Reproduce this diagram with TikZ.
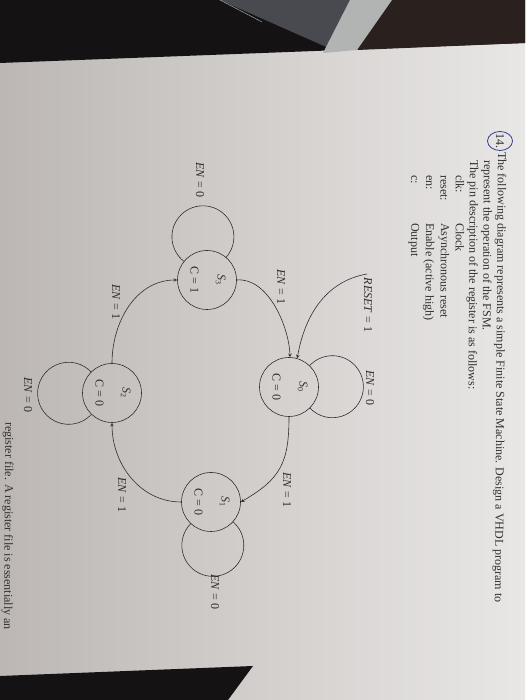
\documentclass[tikz,border=0pt]{standalone}
\usepackage{fontspec}
\usepackage{graphicx}
\setmainfont{Liberation Serif}
\usetikzlibrary{shapes.geometric}

\definecolor{ink}{RGB}{48,46,46}
\definecolor{pen}{RGB}{50,60,150}
\definecolor{paperL}{RGB}{188,183,180}
\definecolor{paperR}{RGB}{233,231,230}
\definecolor{desk}{RGB}{20,18,19}
\definecolor{sheet}{RGB}{72,74,80}
\definecolor{tape}{RGB}{178,180,180}
\definecolor{wood}{RGB}{42,32,29}

\newcommand{\stlabel}[2]{\rotatebox{-90}{\begin{tabular}{@{}c@{}}\textit{S}\textsubscript{#1}\\[13pt]C = #2\end{tabular}}}

\tikzset{
  state/.style={circle, draw=ink, line width=0.6pt, minimum size=59pt, inner sep=0pt},
  lbl/.style={rotate=-90, inner sep=0pt},
  txt/.style={rotate=-90.4, anchor=west, inner sep=0pt},
  flow/.style={-stealth, line width=0.6pt},
}

\begin{document}
\begin{tikzpicture}[x=1pt, y=1pt, color=ink, font=\fontsize{12}{14}\selectfont]
\useasboundingbox (0,0) rectangle (525,700);

% photo: page, desk and tape
\shade[left color=paperL, right color=paperR] (0,0) rectangle (525,700);
\fill[desk] (0,700) -- (525,700) -- (525,657) -- (0,637) -- cycle;
\fill[sheet] (220,700) -- (350,700) -- (333,650) -- cycle;
\draw[gray!70, line width=0.5pt] (220,700) -- (262,678);
\fill[wood] (392,700) -- (525,700) -- (525,657) -- (357,650) -- cycle;
\fill[tape] (323,647) -- (357,650) -- (392,700) -- (350,700) -- cycle;
\foreach \p in {(340,660),(352,672),(364,684),(374,694)}
  \draw[gray!60] \p circle (1.8);
\fill[desk] (0,24) -- (253,34) -- (228,0) -- (0,0) -- cycle;

% question text
\node[lbl] (num) at (500,559) {14.};
\draw[pen, line width=0.8pt] (num.center) ellipse[x radius=12.5, y radius=9.5];
\node[txt] (q1) at (501,548) {The following diagram represents a simple Finite State Machine. Design a VHDL program to};
\node[txt] (q2) at (487,540) {represent the operation of the FSM.};
\node[txt] (q3) at (473,540) {The pin description of the register is as follows:};
\node[txt] (p1) at (460,525) {clk:};
\node[txt] (d1) at (460,477) {Clock};
\node[txt] (p2) at (444,525) {reset:};
\node[txt] (d2) at (444,477) {Asynchronous reset};
\node[txt] (p3) at (429,525) {en:};
\node[txt] (d3) at (429,477) {Enable (active high)};
\node[txt] (p4) at (414,525) {c:};
\node[txt] (d4) at (414,477) {Output};
\node[txt, anchor=east] (tail) at (7,70) {register file. A register file is essentially an};

% states
\node[state] (s3) at (207,420) {\stlabel{3}{1}};
\node[state] (s0) at (289,313) {\stlabel{0}{0}};
\node[state] (s1) at (211,198) {\stlabel{1}{0}};
\node[state] (s2) at (112,307) {\stlabel{2}{0}};
\coordinate (rst) at (367,426);

% self loops
\draw[line width=0.6pt] (s3.141) arc[start angle=232, end angle=-42, radius=31];
\draw[line width=0.6pt] (s0.46) arc[start angle=137, end angle=-137, radius=31];
\draw[line width=0.6pt] (s1.318) arc[start angle=49, end angle=-225, radius=31];
\draw[line width=0.6pt] (s2.226) arc[start angle=317, end angle=43, radius=31];

% transitions
\path[flow]
  (s3.east) edge[out=5, in=92, looseness=0.85] (s0.88)
  (rst) edge[out=190, in=80] (s0.74)
  (s0.south) edge[out=270, in=30, looseness=1.2] (s1.east)
  (s1.west) edge[out=180, in=270] (s2.south)
  (s2.north) edge[out=90, in=180] (s3.west);

% labels
\node[lbl] (l30) at (281,413) {\textit{EN} = 1};
\node[lbl] (lrst) at (368,395) {\textit{RESET} = 1};
\node[lbl] (l01) at (287,210) {\textit{EN} = 1};
\node[lbl] (l12) at (122,205) {\textit{EN} = 1};
\node[lbl] (l23) at (116,398) {\textit{EN} = 1};
\node[lbl] (l33) at (200,520) {\textit{EN} = 0};
\node[lbl] (l00) at (370,312) {\textit{EN} = 0};
\node[lbl] (l11) at (215,108) {\textit{EN} = 0};
\node[lbl] (l22) at (28,305) {\textit{EN} = 0};
\end{tikzpicture}
\end{document}
